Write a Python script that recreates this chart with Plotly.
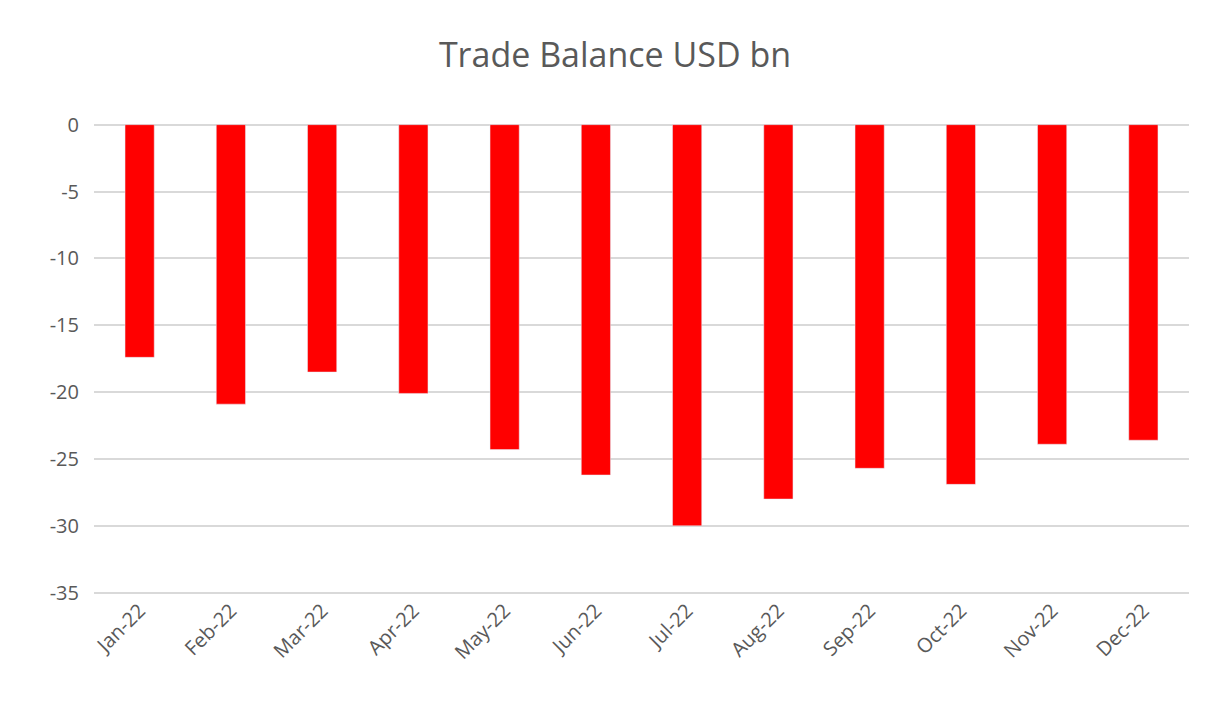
import plotly.graph_objects as go

months = ["Jan-22","Feb-22","Mar-22","Apr-22","May-22","Jun-22","Jul-22","Aug-22","Sep-22","Oct-22","Nov-22","Dec-22"]
balance = [-17.4, -20.9, -18.5, -20.1, -24.3, -26.2, -30.0, -28.0, -25.7, -26.9, -23.9, -23.6]
ytick_vals = [0, -5, -10, -15, -20, -25, -30, -35]
ytick_text = ["0", "-5", "-10", "-15", "-20", "-25", "-30", "-35"]

fig = go.Figure(go.Bar(x=months, y=balance, marker_color="#FF0000", width=0.32))
fig.update_layout(
    width=1214, height=718,
    paper_bgcolor="white", plot_bgcolor="white",
    margin=dict(l=86, r=33, t=116, b=132),
    title=dict(text="Trade Balance USD bn", x=0.5, xanchor="center", y=0.935, yanchor="middle",
               font=dict(family="Open Sans", size=34, color="#595959")),
    font=dict(family="Open Sans", size=20, color="#595959"),
    showlegend=False,
)
fig.update_xaxes(tickangle=-45, showgrid=False, showline=False, ticks="")
fig.update_yaxes(range=[-35.1, 0.05], tickvals=ytick_vals, ticktext=ytick_text,
                 gridcolor="#D9D9D9", gridwidth=1.5,
                 zeroline=True, zerolinecolor="#D9D9D9", zerolinewidth=1.5, ticks="", ticklabelstandoff=14)
fig.write_html("out.html")
